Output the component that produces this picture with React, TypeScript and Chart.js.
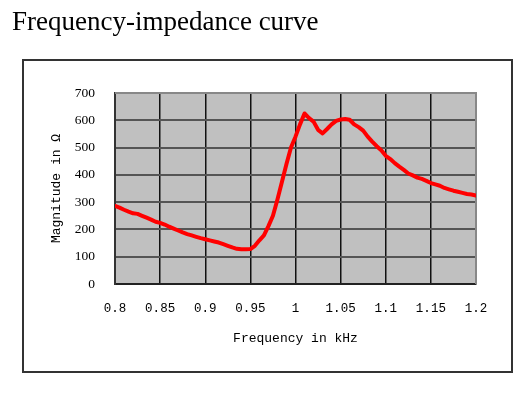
import React, { useEffect, useRef } from 'react';
import { Chart, registerables } from 'chart.js';

Chart.register(...registerables);

const chartTitle = 'Frequency-impedance curve';
const xAxisTitle = 'Frequency in kHz';
const yAxisTitle = 'Magnitude in Ω';

const freq = [
  0.800, 0.805, 0.810, 0.815, 0.820, 0.825, 0.830, 0.835, 0.840, 0.845,
  0.850, 0.855, 0.860, 0.865, 0.870, 0.875, 0.880, 0.885, 0.890, 0.895,
  0.900, 0.905, 0.910, 0.915, 0.920, 0.925, 0.930, 0.935, 0.940, 0.945,
  0.950, 0.955, 0.960, 0.965, 0.970, 0.975, 0.980, 0.985, 0.990, 0.995,
  1.000, 1.005, 1.010, 1.015, 1.020, 1.025, 1.030, 1.035, 1.040, 1.045,
  1.050, 1.055, 1.060, 1.065, 1.070, 1.075, 1.080, 1.085, 1.090, 1.095,
  1.100, 1.105, 1.110, 1.115, 1.120, 1.125, 1.130, 1.135, 1.140, 1.145,
  1.150, 1.155, 1.160, 1.165, 1.170, 1.175, 1.180, 1.185, 1.190, 1.195,
  1.200,
];

const magnitude = [
  286, 280, 272, 265, 259, 257, 250, 243, 236, 228,
  224, 218, 210, 203, 196, 189, 183, 178, 173, 168,
  164, 160, 156, 152, 146, 140, 134, 129, 127, 127,
  128, 140, 160, 178, 212, 250, 310, 375, 440, 500,
  540, 585, 625, 608, 595, 565, 552, 568, 585, 598,
  603, 605, 602, 585, 575, 562, 540, 522, 505, 490,
  470, 458, 443, 430, 418, 405, 398, 390, 385, 378,
  370, 365, 360, 352, 347, 342, 338, 334, 330, 328,
  324,
];

const xTicks = [0.8, 0.85, 0.9, 0.95, 1.0, 1.05, 1.1, 1.15, 1.2];
const xTickLabels = ['0.8', '0.85', '0.9', '0.95', '1', '1.05', '1.1', '1.15', '1.2'];
const yTicks = [0, 100, 200, 300, 400, 500, 600, 700];

export default function App() {
  const ref = useRef<HTMLCanvasElement>(null);

  useEffect(() => {
    if (!ref.current) return;

    const decor = {
      id: 'decor',
      beforeDraw(chart: any) {
        const { ctx, chartArea: a } = chart;
        ctx.save();
        ctx.fillStyle = '#ffffff';
        ctx.fillRect(0, 0, chart.width, chart.height);
        ctx.fillStyle = '#C0C0C0';
        ctx.fillRect(a.left, a.top, a.right - a.left, a.bottom - a.top);
        ctx.fillStyle = '#000000';
        ctx.font = '27px "Liberation Serif"';
        ctx.textBaseline = 'alphabetic';
        ctx.textAlign = 'left';
        ctx.fillText(chartTitle, 12, 30);
        ctx.strokeStyle = '#333333';
        ctx.lineWidth = 2;
        ctx.strokeRect(23, 60, 489, 312);
        ctx.restore();
      },
      beforeDatasetsDraw(chart: any) {
        const { ctx, chartArea: a } = chart;
        ctx.save();
        ctx.strokeStyle = '#888888';
        ctx.lineWidth = 2;
        ctx.beginPath();
        ctx.moveTo(a.left, a.top);
        ctx.lineTo(a.right, a.top);
        ctx.lineTo(a.right, a.bottom);
        ctx.stroke();
        ctx.restore();
      },
    };

    const chart = new Chart(ref.current, {
      type: 'line',
      data: {
        datasets: [
          {
            data: freq.map((f, i) => ({ x: f, y: magnitude[i] })),
            borderColor: '#FF0000',
            borderWidth: 4,
            pointRadius: 0,
            tension: 0,
            borderJoinStyle: 'round',
            borderCapStyle: 'round',
          },
        ],
      },
      options: {
        responsive: false,
        animation: false,
        devicePixelRatio: 1,
        layout: { padding: { left: 0, top: 93, right: 48, bottom: 0 } },
        plugins: { legend: { display: false }, tooltip: { enabled: false } },
        scales: {
          x: {
            type: 'linear',
            min: 0.8,
            max: 1.2,
            afterBuildTicks: (s: any) => {
              s.ticks = xTicks.map((v) => ({ value: v }));
            },
            afterFit: (s: any) => {
              s.height = 112;
            },
            ticks: {
              callback: (_v: any, i: number) => xTickLabels[i],
              font: { family: '"Liberation Mono"', size: 12.5 },
              color: '#000',
              padding: 17,
              maxRotation: 0,
              autoSkip: false,
            },
            grid: { color: '#111111', lineWidth: 1.5, drawTicks: false },
            border: { display: true, color: '#222222', width: 2 },
            title: {
              display: true,
              text: xAxisTitle,
              font: { family: '"Liberation Mono"', size: 13 },
              color: '#000',
              padding: { top: 0, bottom: 50 },
            },
          },
          y: {
            min: 0,
            max: 700,
            afterBuildTicks: (s: any) => {
              s.ticks = yTicks.map((v) => ({ value: v }));
            },
            afterFit: (s: any) => {
              s.width = 115;
            },
            ticks: {
              font: { family: '"Liberation Serif"', size: 13.5 },
              color: '#000',
              padding: 20,
            },
            grid: { color: '#555555', lineWidth: 2, drawTicks: false },
            border: { display: true, color: '#333333', width: 2 },
            title: {
              display: true,
              text: yAxisTitle,
              font: { family: '"Liberation Mono"', size: 13 },
              color: '#000',
              padding: { top: 49, bottom: 0 },
            },
          },
        },
      },
      plugins: [decor],
    } as any);

    return () => chart.destroy();
  }, []);

  return (
    <div style={{ position: 'fixed', left: 0, top: 0, width: 524, height: 396 }}>
      <canvas ref={ref} width={524} height={396} style={{ display: 'block' }} />
    </div>
  );
}
